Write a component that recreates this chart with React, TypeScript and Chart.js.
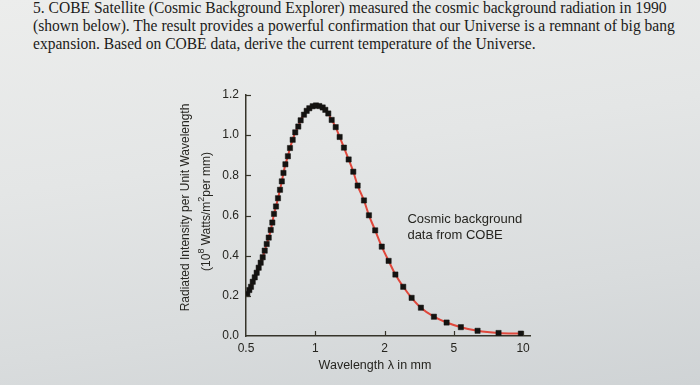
import React, { useEffect, useRef } from 'react';
import { Chart, registerables } from 'chart.js';

Chart.register(...registerables);

const questionLines = [
  '5. COBE Satellite (Cosmic Background Explorer) measured the cosmic background radiation in 1990',
  '(shown below). The result provides a powerful confirmation that our Universe is a remnant of big bang',
  'expansion. Based on COBE data, derive the current temperature of the Universe.',
];

// x axis tick labels (wavelength in mm), equally spaced on the printed axis
const xTickLabels = ['0.5', '1', '2', '5', '10'];
const xTickPositions = [0, 1, 2, 3, 4];
const yTickValues = [0, 0.2, 0.4, 0.6, 0.8, 1.0, 1.2];

// data point positions on the printed wavelength axis (in tick units: 0 = 0.5 mm, 1 = 1 mm, 2 = 2 mm, 3 = 5 mm, 4 = 10 mm)
const axisPos = [
  0.019, 0.048, 0.072, 0.097, 0.126, 0.154, 0.183, 0.212, 0.241, 0.27, 0.299, 0.328, 0.357, 0.38,
  0.404, 0.433, 0.462, 0.491, 0.517, 0.541, 0.569, 0.605, 0.635, 0.674, 0.711, 0.755, 0.789, 0.837,
  0.876, 0.914, 0.963, 1.01, 1.058, 1.107, 1.145, 1.188, 1.237, 1.295, 1.352, 1.414, 1.482, 1.549,
  1.612, 1.703, 1.775, 1.865, 1.96, 2.059, 2.157, 2.27, 2.391, 2.525, 2.713, 2.896, 3.102, 3.343,
  3.646, 3.968,
];
// radiated intensity (10^8 W/m^2 per mm)
const intensity = [
  0.209, 0.229, 0.245, 0.27, 0.292, 0.315, 0.34, 0.365, 0.392, 0.425, 0.458, 0.49, 0.528, 0.565,
  0.608, 0.645, 0.686, 0.728, 0.77, 0.812, 0.855, 0.895, 0.936, 0.977, 1.014, 1.043, 1.074, 1.102,
  1.121, 1.134, 1.144, 1.148, 1.145, 1.138, 1.126, 1.108, 1.076, 1.04, 0.991, 0.938, 0.879, 0.818,
  0.749, 0.675, 0.601, 0.526, 0.445, 0.374, 0.306, 0.245, 0.19, 0.141, 0.096, 0.067, 0.044, 0.026,
  0.015, 0.012,
];

const annotationLines = ['Cosmic background', 'data from COBE'];
const xTitle = 'Wavelength \u03bb in mm';
const yTitleLine1 = 'Radiated Intensity per Unit Wavelength';
const yTitleLine2: [string, boolean][] = [
  ['(10', false],
  ['8', true],
  [' Watts/m', false],
  ['2', true],
  ['per mm)', false],
];

export default function App() {
  const ref = useRef<HTMLCanvasElement>(null);

  useEffect(() => {
    if (!ref.current) return;
    const points = axisPos.map((x, i) => ({ x, y: intensity[i] }));
    const axisColor = '#36342a';
    const textColor = '#262520';
    const sans = '"Liberation Sans", Arial, Helvetica, sans-serif';

    const extras = {
      id: 'cobeExtras',
      afterDraw(chart: any) {
        const { ctx, chartArea, scales } = chart;
        const xs = scales.x;
        const ys = scales.y;
        ctx.save();
        // inside tick marks
        ctx.strokeStyle = axisColor;
        ctx.lineWidth = 1.2;
        ys.ticks.forEach((t: any) => {
          if (t.value === 0) return;
          const py = Math.round(ys.getPixelForValue(t.value)) + 0.5;
          ctx.beginPath();
          ctx.moveTo(chartArea.left, py);
          ctx.lineTo(chartArea.left + 5, py);
          ctx.stroke();
        });
        xs.ticks.forEach((t: any) => {
          if (t.value === 0) return;
          const px = Math.round(xs.getPixelForValue(t.value)) + 0.5;
          ctx.beginPath();
          ctx.moveTo(px, chartArea.bottom);
          ctx.lineTo(px, chartArea.bottom - 5);
          ctx.stroke();
        });

        ctx.fillStyle = textColor;
        // annotation
        ctx.font = '13px ' + sans;
        ctx.textAlign = 'left';
        ctx.textBaseline = 'middle';
        const ax = xs.getPixelForValue(2.33);
        ctx.fillText(annotationLines[0], ax, ys.getPixelForValue(0.58));
        ctx.fillText(annotationLines[1], ax, ys.getPixelForValue(0.5));

        // x title
        ctx.font = '12.5px ' + sans;
        ctx.textAlign = 'center';
        ctx.fillText(xTitle, (chartArea.left + chartArea.right) / 2 - 13, chartArea.bottom + 30);

        // y title (rotated, with superscripts)
        const cy = (chartArea.top + chartArea.bottom) / 2;
        ctx.save();
        ctx.translate(chartArea.left - 60, cy - 8);
        ctx.rotate(-Math.PI / 2);
        ctx.font = '12px ' + sans;
        ctx.textAlign = 'center';
        ctx.fillText(yTitleLine1, 0, 0);
        ctx.restore();

        ctx.save();
        ctx.translate(chartArea.left - 39, cy - 4);
        ctx.rotate(-Math.PI / 2);
        ctx.textAlign = 'left';
        const normal = '12px ' + sans;
        const sup = '9px ' + sans;
        let total = 0;
        yTitleLine2.forEach(([s, isSup]) => {
          ctx.font = isSup ? sup : normal;
          total += ctx.measureText(s).width;
        });
        let px = -total / 2;
        yTitleLine2.forEach(([s, isSup]) => {
          ctx.font = isSup ? sup : normal;
          ctx.fillText(s, px, isSup ? -5 : 0);
          px += ctx.measureText(s).width;
        });
        ctx.restore();

        ctx.restore();
      },
    };

    const chart = new Chart(ref.current, {
      type: 'scatter',
      data: {
        datasets: [
          {
            label: 'COBE data',
            data: points,
            showLine: false,
            pointStyle: 'rect',
            pointRadius: 3.7,
            backgroundColor: '#141311',
            borderColor: '#141311',
            borderWidth: 0.5,
          },
          {
            label: 'Fit',
            data: points,
            showLine: true,
            pointRadius: 0,
            borderColor: '#e0483c',
            borderWidth: 2,
            cubicInterpolationMode: 'monotone',
          } as any,
        ],
      },
      options: {
        animation: false,
        responsive: false,
        events: [],
        layout: { padding: { left: 176, top: 95, right: 170, bottom: 9 } },
        plugins: { legend: { display: false }, tooltip: { enabled: false } },
        scales: {
          x: {
            type: 'linear',
            min: 0,
            max: 4.1,
            afterFit: (s: any) => {
              s.height = 40;
            },
            afterBuildTicks: (s: any) => {
              s.ticks = xTickPositions.map((v) => ({ value: v }));
            },
            grid: { display: false, drawTicks: false },
            border: { display: true, color: axisColor, width: 1.5 },
            ticks: {
              padding: 5,
              color: textColor,
              font: { family: sans, size: 12 },
              maxRotation: 0,
              callback: (v: any) => {
                const i = xTickPositions.indexOf(Number(v));
                return i >= 0 ? xTickLabels[i] : '';
              },
            },
          },
          y: {
            type: 'linear',
            min: 0,
            max: 1.2,
            afterFit: (s: any) => {
              s.width = 70;
            },
            afterBuildTicks: (s: any) => {
              s.ticks = yTickValues.map((v) => ({ value: v }));
            },
            grid: { display: false, drawTicks: false },
            border: { display: true, color: axisColor, width: 1.5 },
            ticks: {
              padding: 7,
              color: textColor,
              font: { family: sans, size: 12 },
              callback: (v: any) => Number(v).toFixed(1),
            },
          },
        },
      },
      plugins: [extras],
    });
    return () => chart.destroy();
  }, []);

  return (
    <div
      style={{
        position: 'fixed',
        left: 0,
        top: 0,
        width: 700,
        height: 385,
        overflow: 'hidden',
        background: 'linear-gradient(172deg, #ecedec 0%, #e4e6e6 40%, #d9dcdd 75%, #cfd3d5 100%)',
      }}
    >
      <div
        style={{
          position: 'absolute',
          left: 33,
          top: -1,
          fontFamily: '"Liberation Serif", "Times New Roman", serif',
          fontSize: 16.3,
          lineHeight: '18px',
          color: '#1c1b19',
          whiteSpace: 'nowrap',
          transform: 'scaleX(0.955)',
          transformOrigin: '0 0',
        }}
      >
        {questionLines.map((l, i) => (
          <div key={i}>{l}</div>
        ))}
      </div>
      <canvas
        ref={ref}
        width={700}
        height={385}
        style={{ position: 'absolute', left: 0, top: 0, width: 700, height: 385 }}
      />
    </div>
  );
}
